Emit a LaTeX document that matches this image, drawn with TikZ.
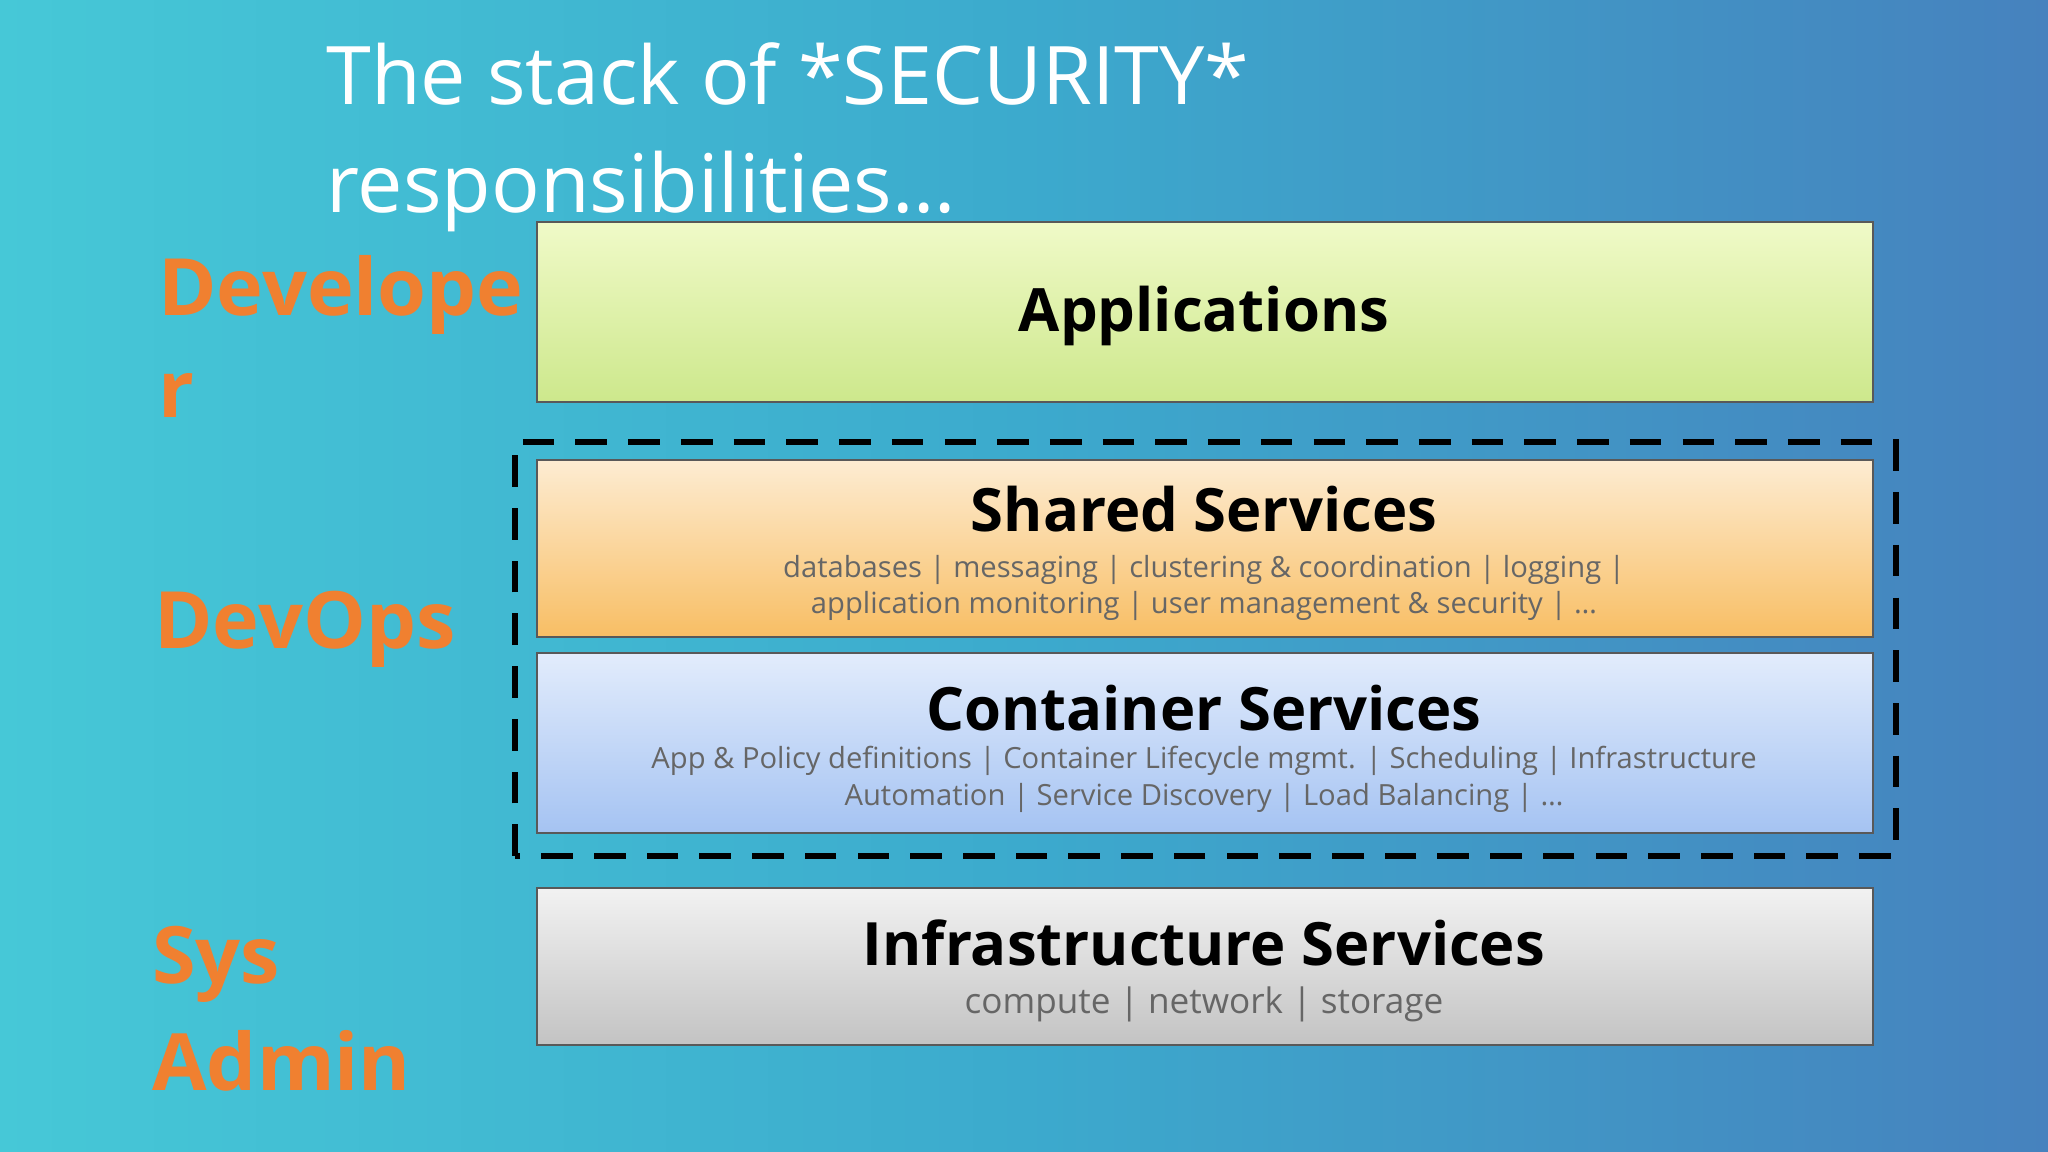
\documentclass[tikz,border=0pt]{standalone}
\usepackage{fontspec}
\setmainfont{Open Sans}
\definecolor{bgl}{RGB}{70,200,215}
\definecolor{bgr}{RGB}{70,130,190}
\begin{document}
\begin{tikzpicture}
\useasboundingbox (0,0) rectangle (20.48,11.52);
\shade[left color=bgl, right color=bgr, middle color={rgb,255:red,60;green,170;blue,205}] (0,0) rectangle (20.48,11.52);
\tikzset{
  layer/.style={draw=gray!70!black, line width=0.8pt},
  ttl/.style={font=\bfseries\fontsize{17}{20}\selectfont, text=black},
  sub/.style={font=\fontsize{8.3}{10.5}\selectfont, text=gray!80!black, align=center},
  role/.style={font=\bfseries\fontsize{22.5}{26}\selectfont, text={rgb,255:red,240;green,128;blue,48}, anchor=base west},
  head/.style={font=\fontsize{23}{26}\selectfont, text=white, anchor=base west}
}
\node[head] (t1) at (3.14,10.47) {The stack of *SECURITY*};
\node[head] (t2) at (3.14,9.39) {responsibilities…};

\shade[layer, top color={rgb,255:red,240;green,250;blue,200}, bottom color={rgb,255:red,205;green,232;blue,140}] (5.37,7.50) rectangle (18.73,9.30);
\node[ttl] (app) at (12.04,8.36) {Applications};

\draw[line width=1.8pt, dash pattern=on 9pt off 6pt] (5.15,2.96) rectangle (18.96,7.10);

\shade[layer, top color={rgb,255:red,253;green,236;blue,210}, bottom color={rgb,255:red,248;green,190;blue,100}] (5.37,5.15) rectangle (18.73,6.92);
\node[ttl] (sh) at (12.04,6.43) {Shared Services};
\node[sub] (shs) at (12.04,5.64) {databases | messaging | clustering \& coordination | logging |\\application monitoring | user management \& security | …};

\shade[layer, top color={rgb,255:red,226;green,236;blue,252}, bottom color={rgb,255:red,165;green,195;blue,242}] (5.37,3.19) rectangle (18.73,4.99);
\node[ttl] (co) at (12.04,4.44) {Container Services};
\node[sub] (cos) at (12.04,3.73) {App \& Policy definitions | Container Lifecycle mgmt. | Scheduling | Infrastructure\\Automation | Service Discovery | Load Balancing | …};

\shade[layer, top color={rgb,255:red,242;green,242;blue,242}, bottom color={rgb,255:red,195;green,195;blue,195}] (5.37,1.07) rectangle (18.73,2.64);
\node[ttl] (in) at (12.04,2.09) {Infrastructure Services};
\node[sub, font=\fontsize{10}{12}\selectfont] (ins) at (12.04,1.48) {compute | network | storage};

\node[role] (d1) at (1.46,8.36) {Develope};
\node[role] (d2) at (1.46,7.34) {r};
\node[role] (dv) at (1.42,5.03) {DevOps};
\node[role] (s1) at (1.40,1.68) {Sys};
\node[role] (s2) at (1.40,0.61) {Admin};
\end{tikzpicture}
\end{document}
